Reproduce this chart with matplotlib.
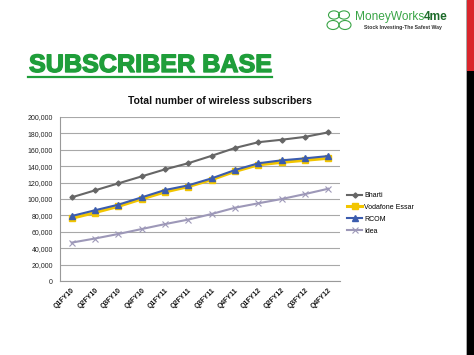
import matplotlib
matplotlib.use("Agg")
import matplotlib.pyplot as plt
from matplotlib.patches import Rectangle, Circle
from matplotlib.lines import Line2D
from matplotlib.ticker import FuncFormatter
import matplotlib.patheffects as pe

quarters = ["Q1FY10", "Q2FY10", "Q3FY10", "Q4FY10", "Q1FY11", "Q2FY11",
            "Q3FY11", "Q4FY11", "Q1FY12", "Q2FY12", "Q3FY12", "Q4FY12"]
bharti = [102000, 110500, 119000, 127500, 136000, 143500, 152500, 162000, 169000, 172000, 175500, 181000]
vodafone = [76500, 83500, 91000, 100000, 108500, 115000, 123500, 133500, 141500, 144500, 147000, 149500]
rcom = [79300, 86300, 93100, 102000, 110900, 116600, 125100, 135200, 143400, 147000, 149400, 152200]
idea = [47000, 52000, 57500, 63500, 69500, 75000, 81800, 89400, 94800, 100000, 106000, 112500]
series_names = ["Bharti", "Vodafone Essar", "RCOM", "Idea"]
yticks = [0, 20000, 40000, 60000, 80000, 100000, 120000, 140000, 160000, 180000, 200000]

W, H = 474, 355
fig = plt.figure(figsize=(W / 100, H / 100), dpi=100)
fig.patch.set_facecolor("white")
plt.rcParams["font.family"] = ["Liberation Sans", "DejaVu Sans"]

def fx(x):
    return x / W

def fy(y):
    return 1 - y / H

# right edge bars
fig.add_artist(Rectangle((fx(466.5), fy(355)), fx(8), 355 / H, transform=fig.transFigure,
                         facecolor="black", edgecolor="none"))
fig.add_artist(Rectangle((fx(466.5), fy(70.5)), fx(8), 70.5 / H, transform=fig.transFigure,
                         facecolor="#d9262c", edgecolor="none"))
fig.add_artist(Line2D([fx(466), fx(466)], [0, 1], transform=fig.transFigure, color="#999999", lw=0.6))

# heading
green = "#1f9e3a"
fig.text(fx(29), fy(72), "SUBSCRIBER BASE", color=green, fontsize=18.1, fontweight="bold",
         ha="left", va="baseline", family="Liberation Sans",
         path_effects=[pe.withStroke(linewidth=1.0, foreground=green)])
fig.add_artist(Line2D([fx(28), fx(272)], [fy(76.5), fy(76.5)], transform=fig.transFigure,
                      color=green, lw=1.6))

# logo
lg = "#3aa547"
for (cx, cy, r) in [(334, 15, 5.5), (344, 15, 5.5), (333, 25, 6), (345, 25, 6)]:
    fig.add_artist(Circle((fx(cx), fy(cy)), r / W, transform=fig.transFigure,
                          facecolor="none", edgecolor=lg, lw=0.8))
t1 = fig.text(fx(355), fy(20), "MoneyWorks", color=lg, fontsize=8.6, ha="left", va="baseline")
fig.canvas.draw()
bb = t1.get_window_extent()
fig.text(bb.x1 / W, fy(20), "4me", color="#1d6b2a", fontsize=8.6, ha="left", va="baseline",
         fontweight="bold")
fig.text(fx(364), fy(29), "Stock Investing-The Safest Way", color="#333333", fontsize=3.7,
         ha="left", va="baseline", fontweight="bold")

# chart
ax = fig.add_axes([fx(60), fy(281.3), fx(340) - fx(60), (281.3 - 116.7) / H])
x = list(range(len(quarters)))
ax.plot(x, bharti, color="#666666", lw=1.5, marker="D", ms=2.6, label=series_names[0], zorder=5)
ax.plot(x, vodafone, color="#f2c500", lw=2.2, marker="s", ms=3.8, label=series_names[1], zorder=3)
ax.plot(x, rcom, color="#3b5cae", lw=1.5, marker="^", ms=3.8, label=series_names[2], zorder=4)
ax.plot(x, idea, color="#9d98b8", lw=1.5, marker="x", ms=4.5, mew=0.8, label=series_names[3], zorder=5)

ax.set_xlim(-0.5, 11.5)
ax.set_ylim(0, 200000)
ax.set_yticks(yticks)
ax.yaxis.set_major_formatter(FuncFormatter(lambda v, p: f"{int(v):,}"))
ax.set_xticks(x)
ax.set_xticklabels(quarters, rotation=45, ha="right", va="top", rotation_mode="anchor",
                   fontsize=5, fontweight="bold")
ax.tick_params(axis="y", labelsize=5, length=0, pad=5, labelcolor="#222222")
ax.tick_params(axis="x", length=0, pad=4, labelcolor="#111111")
ax.grid(axis="y", color="#a8a8a8", lw=0.8)
ax.set_axisbelow(True)
for s in ["top", "right"]:
    ax.spines[s].set_visible(False)
for s in ["left", "bottom"]:
    ax.spines[s].set_color("#999999")
    ax.spines[s].set_linewidth(0.8)

fig.text(fx(220), fy(101), "Total number of wireless subscribers", fontsize=7.5, fontweight="bold",
         ha="center", va="center", color="#111111")

ax.legend(loc="upper left", bbox_to_anchor=(fx(347), fy(192)), bbox_transform=fig.transFigure,
          frameon=False, fontsize=5, handlelength=2.2, handletextpad=0.3, labelspacing=0.7,
          borderaxespad=0, borderpad=0)

fig.savefig("out.png", dpi=100)
